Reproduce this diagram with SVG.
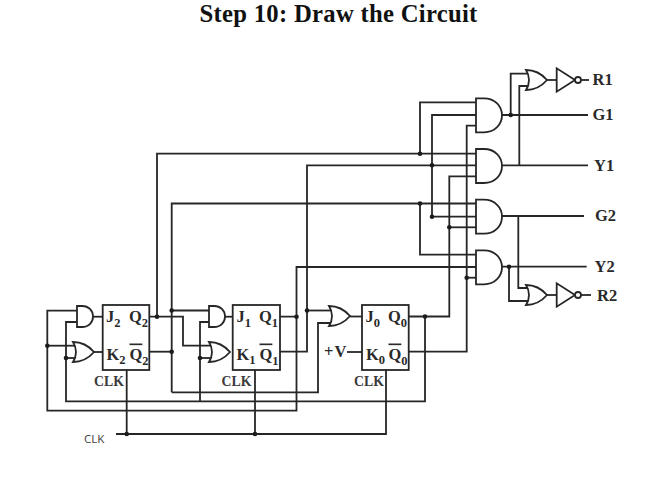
<svg xmlns="http://www.w3.org/2000/svg" width="654" height="477" viewBox="0 0 654 477">
<style>
.w{fill:none;stroke:#262626;stroke-width:1.8}
.g{fill:#fff;stroke:#262626;stroke-width:1.8}
.d{fill:#1c1c1c;stroke:none}
text{font-family:"Liberation Serif","Times New Roman",serif;fill:#2a2a2a}
.t{font-size:24.700px;font-weight:bold;fill:#111;letter-spacing:.28px}
.l{font-size:16.500px;font-weight:bold}
.s{font-size:12.500px;font-weight:bold}
.c{font-size:13.800px;font-weight:bold;fill:#3a3a3a}
.o{text-decoration:overline}
.k{font-family:"Noto Sans","Liberation Sans",sans-serif;font-size:11.500px;fill:#4a4a4a}
</style>
<defs>
<path id="a" class="g" d="M0 0H5C12 0 16 5 16 10.5C16 16 12 21 5 21H0Z"/>
<path id="r" class="g" d="M0 0C7 0 15 3 21 10C15 17 7 20 0 20C4 14 4 6 0 0Z"/>
<path id="b" class="g" d="M0 0H8C19 0 26 8 26 17C26 26 19 34 8 34H0Z"/>
<g id="n"><path class="g" d="M0 -11.700V11.700L18.300 0Z"/><circle class="g" cx="21.300" cy="0" r="3"/></g>
</defs>
<rect width="654" height="477" fill="#fff"/>
<text class="t" x="199.500" y="22">Step 10: Draw the Circuit</text>
<g id="connectors" class="w">
<path d="M77 310.700H47.300V410.700H296.500V316.700"/>
<path d="M47.300 345.700H76"/>
<path d="M92 316.700H103"/>
<path d="M93 352H103"/>
<path d="M149 316.700H183V345.700H212"/>
<path d="M157 316.700V153.700H476"/>
<path d="M149 351.700H171.700"/>
<path d="M171.700 392.300V203.500H476"/>
<path d="M171.700 310.500H209"/>
<path d="M171.700 392.300H318V323H330"/>
<path d="M420 153.700V102.300H476"/>
<path d="M420 203.500V254.700H476"/>
<path d="M409 316.500H449.300V176.300H476"/>
<path d="M449.300 227.300H476"/>
<path d="M425 316.500V401.300H66V322H77"/>
<path d="M66 358H76"/>
<path d="M200 401.300V322H209"/>
<path d="M200 358H212"/>
<path d="M224 316.700H233"/>
<path d="M235 352H233"/>
<path d="M280 316.700H296.500V267H476"/>
<path d="M280 351.700H307V165.300H476"/>
<path d="M307 310.500H332"/>
<path d="M350 316.500H362"/>
<path d="M347 352H362"/>
<path d="M409 351.700H466.700V125.700H476"/>
<path d="M466.700 277.700H476"/>
<path d="M432 165.300V115H476"/>
<path d="M432 165.300V216.700H476"/>
<path d="M126.700 370V434"/>
<path d="M255 370V434"/>
<path d="M116 434H386V370"/>
<path d="M502 115H588"/>
<path d="M510.700 115V73.700H530"/>
<path d="M502 165.300H588"/>
<path d="M519.300 165.300V86H530"/>
<path d="M502 216H584"/>
<path d="M518.300 216V288H530"/>
<path d="M502 266.700H586.700"/>
<path d="M509 266.700V301H530"/>
<path d="M546.700 80H557"/>
<path d="M581 80H589"/>
<path d="M546.700 295H557"/>
<path d="M581 295H591"/>
<g class="d">
<circle cx="157" cy="316.700" r="2.300"/><circle cx="171.700" cy="310.500" r="2.300"/><circle cx="171.700" cy="351.700" r="2.300"/>
<circle cx="47.300" cy="345.700" r="2.300"/><circle cx="66" cy="358" r="2.300"/><circle cx="200" cy="358" r="2.300"/>
<circle cx="296.500" cy="316.700" r="2.300"/><circle cx="307" cy="310.500" r="2.300"/><circle cx="425" cy="316.500" r="2.300"/>
<circle cx="126.700" cy="434" r="2.300"/><circle cx="255" cy="434" r="2.300"/>
<circle cx="420" cy="153.700" r="2.300"/><circle cx="432" cy="165.300" r="2.300"/><circle cx="420" cy="203.500" r="2.300"/>
<circle cx="432" cy="216.700" r="2.300"/><circle cx="449.300" cy="227.300" r="2.300"/><circle cx="466.700" cy="277.700" r="2.300"/>
<circle cx="510.700" cy="115" r="2.300"/><circle cx="509" cy="266.700" r="2.300"/>
</g>
</g>
<g id="ff2">
<rect class="g" x="102.700" y="305" width="46.600" height="65"/>
<text class="l" x="106" y="322">J<tspan class="s" dy="5">2</tspan></text>
<text class="l" x="129" y="321.500">Q<tspan class="s" dy="5">2</tspan></text>
<text class="l" x="106.500" y="360">K<tspan class="s" dy="4">2</tspan></text>
<text class="l" x="129.500" y="359.500"><tspan class="o">Q</tspan><tspan class="s" dy="5">2</tspan></text>
<text class="c" x="94" y="385.500">CLK</text>
</g>
<g id="ff1">
<rect class="g" x="232.700" y="305" width="47.300" height="65"/>
<text class="l" x="236.500" y="322">J<tspan class="s" dy="5">1</tspan></text>
<text class="l" x="259" y="321.500">Q<tspan class="s" dy="5">1</tspan></text>
<text class="l" x="236.500" y="360">K<tspan class="s" dy="4">1</tspan></text>
<text class="l" x="259.500" y="359.500"><tspan class="o">Q</tspan><tspan class="s" dy="5">1</tspan></text>
<text class="c" x="221.500" y="385.500">CLK</text>
</g>
<g id="ff0">
<rect class="g" x="362" y="305" width="46.700" height="65"/>
<text class="l" x="365.500" y="322">J<tspan class="s" dy="5">0</tspan></text>
<text class="l" x="388" y="321.500">Q<tspan class="s" dy="5">0</tspan></text>
<text class="l" x="366" y="360">K<tspan class="s" dy="4">0</tspan></text>
<text class="l" x="388.500" y="359.500"><tspan class="o">Q</tspan><tspan class="s" dy="5">0</tspan></text>
<text class="c" x="354" y="385.500">CLK</text>
</g>
<g id="vcc"><text class="l" x="324" y="356.700" letter-spacing="1">+V</text></g>
<g id="clk-in"><text class="k" x="84" y="442.500">CLK</text></g>
<g id="and-j2"><use href="#a" x="77" y="306"/></g>
<g id="or-k2"><use href="#r" x="73" y="342"/></g>
<g id="and-j1"><use href="#a" x="209" y="306"/></g>
<g id="or-k1"><use href="#r" x="209" y="342"/></g>
<g id="or-j0"><use href="#r" x="329" y="306"/></g>
<g id="and-g1"><use href="#b" x="476" y="98.300"/></g>
<g id="and-y1"><use href="#b" x="476" y="149"/></g>
<g id="and-g2"><use href="#b" x="476" y="199.700"/></g>
<g id="and-y2"><use href="#b" x="476" y="250.300"/></g>
<g id="or-r1"><use href="#r" x="526" y="70"/></g>
<g id="or-r2"><use href="#r" x="526" y="285"/></g>
<g id="not-r1"><use href="#n" x="556.700" y="80"/></g>
<g id="not-r2"><use href="#n" x="556.700" y="295"/></g>
<g id="out-r1"><text class="l" x="592.500" y="85">R1</text></g>
<g id="out-g1"><text class="l" x="592.500" y="120">G1</text></g>
<g id="out-y1"><text class="l" x="594" y="171">Y1</text></g>
<g id="out-g2"><text class="l" x="595" y="220.700">G2</text></g>
<g id="out-y2"><text class="l" x="594.500" y="271.500">Y2</text></g>
<g id="out-r2"><text class="l" x="597" y="300.700">R2</text></g>
</svg>
